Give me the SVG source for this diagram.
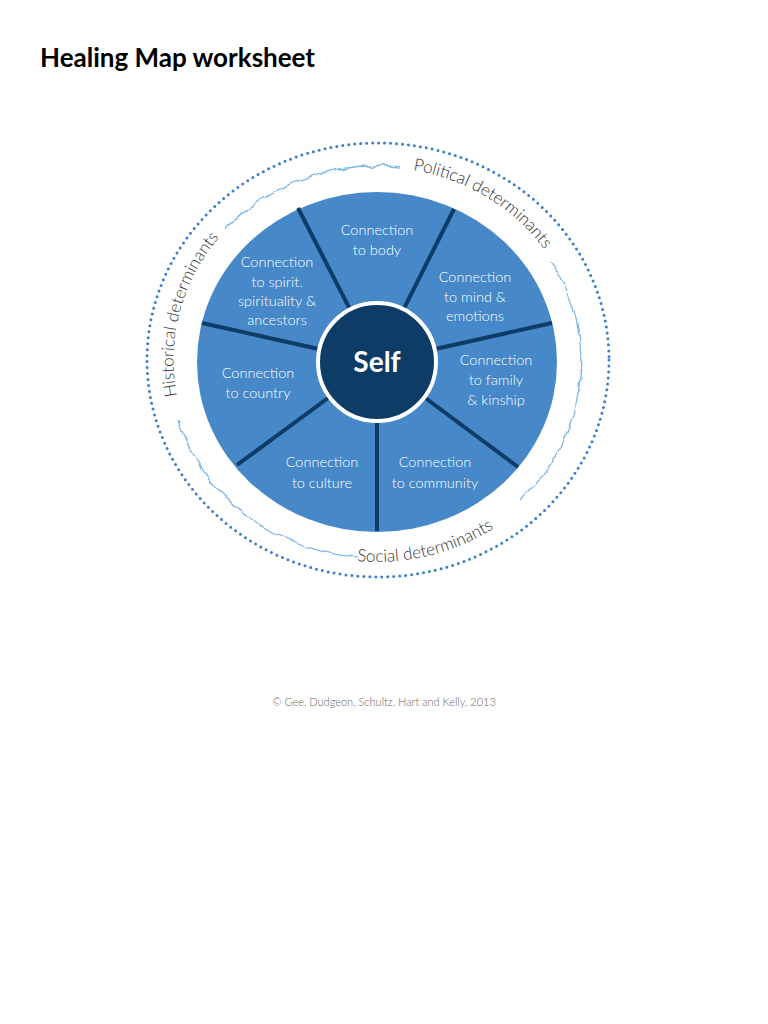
<svg xmlns="http://www.w3.org/2000/svg" width="768" height="1024" viewBox="0 0 768 1024">
<style>
.seg{font-family:Lato,"Open Sans",sans-serif;font-weight:300;font-size:14.5px;fill:#fff;text-anchor:middle}
.det{font-family:Lato,"Open Sans",sans-serif;font-weight:300;font-size:17px;fill:#333}
.wave{fill:none;stroke:#7db5e6;stroke-width:1.3;filter:url(#wob)}
.div{stroke:#0d3d66;stroke-width:4}
</style>
<defs>
<filter id="wob" x="-10%" y="-10%" width="120%" height="120%">
<feTurbulence type="fractalNoise" baseFrequency="0.09" numOctaves="1" seed="3"/>
<feDisplacementMap in="SourceGraphic" scale="7" xChannelSelector="R" yChannelSelector="G"/>
</filter>
<path id="pPol" d="M413,170 A205 195 0 0 1 582,362"/>
<path id="pHis" d="M177,396 A205 195 0 0 1 300,180"/>
<path id="pSoc" d="M357,561 A210 200 0 0 0 559,462"/>
</defs>
<rect width="768" height="1024" fill="#fff"/>
<text x="40" y="67" font-family="Lato,'Open Sans',sans-serif" font-weight="700" font-size="26" fill="#000">Healing Map worksheet</text>
<g id="outer">
<ellipse cx="378" cy="360" rx="231" ry="217" fill="none" stroke="#3a7fc7" stroke-width="3" stroke-linecap="round" stroke-dasharray="0 6"/>
<path class="wave" d="M225,230 A205 195 0 0 1 400,167"/>
<path class="wave" d="M553,263 A205 195 0 0 1 520,500"/>
<path class="wave" d="M357,557 A205 195 0 0 1 178,420"/>
<text class="det"><textPath href="#pPol">Political determinants</textPath></text>
<text class="det"><textPath href="#pHis">Historical determinants</textPath></text>
<text class="det"><textPath href="#pSoc">Social determinants</textPath></text>
</g>
<g id="wheel">
<ellipse cx="377" cy="362" rx="180" ry="170" fill="#4688c8"/>
</g>
<g id="connectors">
<line class="div" x1="377" y1="362" x2="298" y2="208"/>
<line class="div" x1="377" y1="362" x2="454" y2="209"/>
<line class="div" x1="377" y1="362" x2="552" y2="323"/>
<line class="div" x1="377" y1="362" x2="518" y2="467"/>
<line class="div" x1="377" y1="362" x2="377" y2="531"/>
<line class="div" x1="377" y1="362" x2="237" y2="465"/>
<line class="div" x1="377" y1="362" x2="202" y2="323"/>
</g>
<g id="self">
<circle cx="377" cy="362" r="59" fill="#0d3d66" stroke="#fff" stroke-width="4"/>
<text x="377" y="372" text-anchor="middle" font-family="Lato,'Open Sans',sans-serif" font-weight="700" font-size="28" fill="#fff">Self</text>
</g>
<g id="body"><text class="seg" x="377" y="235">Connection</text><text class="seg" x="377" y="255">to body</text></g>
<g id="mind"><text class="seg" x="475" y="282">Connection</text><text class="seg" x="475" y="302">to mind &amp;</text><text class="seg" x="475" y="321">emotions</text></g>
<g id="family"><text class="seg" x="496" y="365">Connection</text><text class="seg" x="496" y="385">to family</text><text class="seg" x="496" y="405">&amp; kinship</text></g>
<g id="community"><text class="seg" x="435" y="467">Connection</text><text class="seg" x="435" y="488">to community</text></g>
<g id="culture"><text class="seg" x="322" y="467">Connection</text><text class="seg" x="322" y="488">to culture</text></g>
<g id="country"><text class="seg" x="258" y="378">Connection</text><text class="seg" x="258" y="398">to country</text></g>
<g id="spirit"><text class="seg" x="277" y="267">Connection</text><text class="seg" x="277" y="287">to spirit.</text><text class="seg" x="277" y="306">spirituality &amp;</text><text class="seg" x="277" y="325">ancestors</text></g>
<text x="384" y="706" text-anchor="middle" font-family="Lato,'Open Sans',sans-serif" font-weight="300" font-size="11" fill="#666">© Gee, Dudgeon, Schultz, Hart and Kelly, 2013</text>
</svg>
